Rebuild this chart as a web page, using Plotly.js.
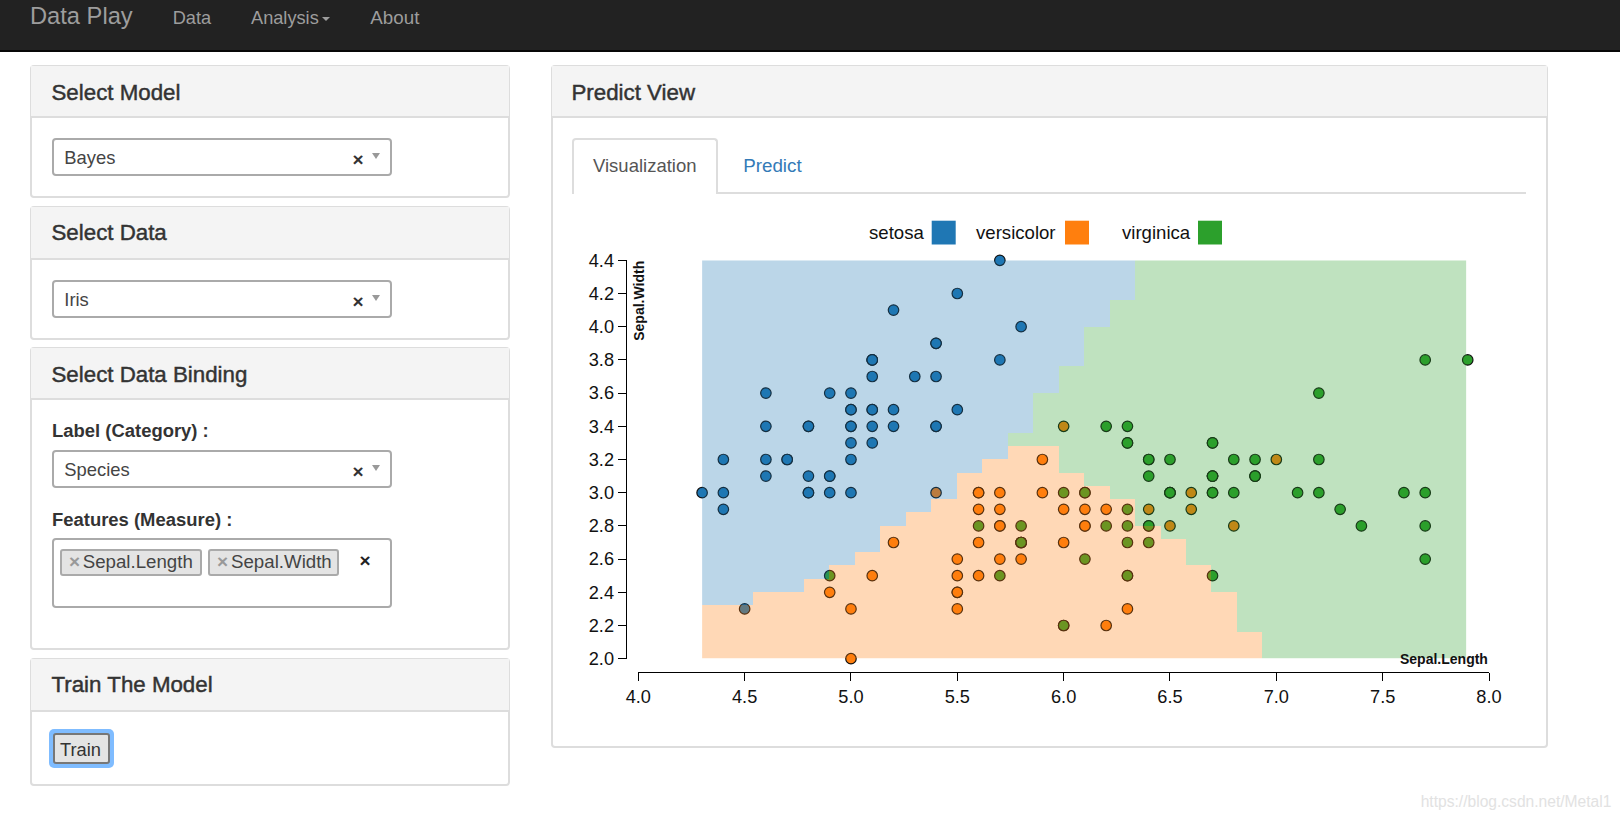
<!DOCTYPE html>
<html>
<head>
<meta charset="utf-8">
<title>Data Play</title>
<script src="https://cdn.plot.ly/plotly-3.0.1.min.js"></script>
<style>
html,body{margin:0;padding:0;width:1620px;height:820px;overflow:hidden;background:#fff;font-family:"Liberation Sans",Arial,sans-serif;color:#333}
.a{position:absolute;box-sizing:border-box;white-space:nowrap}
.nav{left:0;top:0;width:1620px;height:52px;background:#222;border-bottom:2px solid #080808}
.navt{color:#9d9d9d;font-size:18.2px;line-height:24px;height:24px}
.panel{background:#fff;border:2px solid #ddd;border-radius:4px}
.head{left:0;top:0;right:0;background:#f4f4f4;border-bottom:2px solid #ddd}
.h{font-size:22.3px;line-height:30px;height:30px;color:#333;-webkit-text-stroke:.45px #333}
.sel{background:#fff;border:2px solid #aaa;border-radius:4px}
.st{font-size:18.4px;line-height:24px;height:24px;color:#444}
.x{font-size:19px;font-weight:bold;line-height:20px;height:20px;color:#333}
.arrow{width:0;height:0;border-left:4.5px solid transparent;border-right:4.5px solid transparent;border-top:6px solid #999}
.lab{font-size:18.45px;font-weight:bold;line-height:24px;height:24px;color:#333}
.tag{background:#e4e4e4;border:2px solid #aaa;border-radius:3px}
.tx{font-size:19px;font-weight:bold;line-height:20px;height:20px;color:#999}
#chart{position:absolute;left:560px;top:200px;width:980px;height:530px}
</style>
</head>
<body>
<div class="a nav"></div>
<div class="a" style="left:30px;top:-.5px;height:32px;line-height:32px;font-size:23.7px;color:#9d9d9d">Data Play</div>
<div class="a navt" style="left:172.7px;top:5.5px">Data</div>
<div class="a navt" style="left:251px;top:5.5px">Analysis</div>
<div class="a" style="left:322px;top:17px;width:0;height:0;border-left:4px solid transparent;border-right:4px solid transparent;border-top:4px solid #9d9d9d"></div>
<div class="a navt" style="left:370.3px;top:5.5px;font-size:18.8px">About</div>

<div class="a panel" style="left:30px;top:64.5px;width:479.5px;height:133px"></div>
<div class="a head" style="left:31px;top:65.5px;width:477.5px;height:52.5px"></div>
<div class="a h" style="left:51.5px;top:78px">Select Model</div>
<div class="a sel" style="left:52px;top:138px;width:339.5px;height:38px"></div>
<div class="a st" style="left:64.3px;top:146px">Bayes</div>
<div class="a x" style="left:352.5px;top:149.5px">×</div>
<div class="a arrow" style="left:371.5px;top:153px"></div>

<div class="a panel" style="left:30px;top:206px;width:479.5px;height:133.5px"></div>
<div class="a head" style="left:31px;top:207px;width:477.5px;height:53px"></div>
<div class="a h" style="left:51.5px;top:217.5px">Select Data</div>
<div class="a sel" style="left:52px;top:280px;width:339.5px;height:38px"></div>
<div class="a st" style="left:64.3px;top:288px">Iris</div>
<div class="a x" style="left:352.5px;top:291.5px">×</div>
<div class="a arrow" style="left:371.5px;top:295px"></div>

<div class="a panel" style="left:30px;top:346.5px;width:479.5px;height:303px"></div>
<div class="a head" style="left:31px;top:347.5px;width:477.5px;height:52.5px"></div>
<div class="a h" style="left:51.5px;top:360px">Select Data Binding</div>
<div class="a lab" style="left:52px;top:419px">Label (Category) :</div>
<div class="a sel" style="left:52px;top:450px;width:339.5px;height:37.5px"></div>
<div class="a st" style="left:64.3px;top:458px">Species</div>
<div class="a x" style="left:352.5px;top:461.5px">×</div>
<div class="a arrow" style="left:371.5px;top:465px"></div>
<div class="a lab" style="left:52px;top:508px">Features (Measure) :</div>
<div class="a sel" style="left:52px;top:538px;width:339.5px;height:69.5px"></div>
<div class="a tag" style="left:60px;top:548.5px;width:141.5px;height:27px"></div>
<div class="a tx" style="left:69px;top:552px">×</div>
<div class="a st" style="left:82.7px;top:549.5px;font-size:18.7px">Sepal.Length</div>
<div class="a tag" style="left:208.3px;top:548.5px;width:131px;height:27px"></div>
<div class="a tx" style="left:217px;top:552px">×</div>
<div class="a st" style="left:231px;top:549.5px;font-size:18.7px">Sepal.Width</div>
<div class="a x" style="left:359.5px;top:551px;color:#222">×</div>

<div class="a panel" style="left:30px;top:658px;width:479.5px;height:128px"></div>
<div class="a head" style="left:31px;top:659px;width:477.5px;height:52.5px"></div>
<div class="a h" style="left:51.5px;top:669.5px">Train The Model</div>
<div class="a" style="left:48.5px;top:728.5px;width:65px;height:39px;background:#7fbcff;border-radius:5px"></div>
<div class="a" style="left:52.5px;top:732.5px;width:57.5px;height:31.5px;background:#e4e4e4;border:2px solid #777;border-radius:3px"></div>
<div class="a" style="left:60px;top:737.5px;height:24px;line-height:24px;font-size:18.3px;color:#333">Train</div>

<div class="a panel" style="left:550.5px;top:64.5px;width:997px;height:683px"></div>
<div class="a head" style="left:551.5px;top:65.5px;width:995px;height:52.5px"></div>
<div class="a h" style="left:571.5px;top:77.5px">Predict View</div>
<div class="a" style="left:571.5px;top:192px;width:954.5px;height:2px;background:#ddd"></div>
<div class="a" style="left:571.5px;top:138px;width:146px;height:56px;background:#fff;border:2px solid #ddd;border-bottom:none;border-radius:4px 4px 0 0"></div>
<div class="a" style="left:593px;top:153.5px;height:24px;line-height:24px;font-size:18.5px;color:#555">Visualization</div>
<div class="a" style="left:743.2px;top:153.5px;height:24px;line-height:24px;font-size:18.8px;color:#337ab7">Predict</div>
<div class="a" style="left:1420.7px;top:791.5px;height:20px;line-height:20px;font-size:15.6px;color:#e2e2e2">https://blog.csdn.net/Metal1</div>

<div id="chart"></div>
<script>
// Categories and colours
const species = ["setosa", "versicolor", "virginica"];
const speciesColors = ["#1f77b4", "#ff7f0e", "#2ca02c"];

const setosaX = [5.1,4.9,4.7,4.6,5.0,5.4,4.6,5.0,4.4,4.9,5.4,4.8,4.8,4.3,5.8,5.7,5.4,5.1,5.7,5.1,5.4,5.1,4.6,5.1,4.8,5.0,5.0,5.2,5.2,4.7,4.8,5.4,5.2,5.5,4.9,5.0,5.5,4.9,4.4,5.1,5.0,4.5,4.4,5.0,5.1,4.8,5.1,4.6,5.3,5.0];
const setosaY = [3.5,3.0,3.2,3.1,3.6,3.9,3.4,3.4,2.9,3.1,3.7,3.4,3.0,3.0,4.0,4.4,3.9,3.5,3.8,3.8,3.4,3.7,3.6,3.3,3.4,3.0,3.4,3.5,3.4,3.2,3.1,3.4,4.1,4.2,3.1,3.2,3.5,3.6,3.0,3.4,3.5,2.3,3.2,3.5,3.8,3.0,3.8,3.2,3.7,3.3];
const versicolorX = [7.0,6.4,6.9,5.5,6.5,5.7,6.3,4.9,6.6,5.2,5.0,5.9,6.0,6.1,5.6,6.7,5.6,5.8,6.2,5.6,5.9,6.1,6.3,6.1,6.4,6.6,6.8,6.7,6.0,5.7,5.5,5.5,5.8,6.0,5.4,6.0,6.7,6.3,5.6,5.5,5.5,6.1,5.8,5.0,5.6,5.7,5.7,6.2,5.1,5.7];
const versicolorY = [3.2,3.2,3.1,2.3,2.8,2.8,3.3,2.4,2.9,2.7,2.0,3.0,2.2,2.9,2.9,3.1,3.0,2.7,2.2,2.5,3.2,2.8,2.5,2.8,2.9,3.0,2.8,3.0,2.9,2.6,2.4,2.4,2.7,2.7,3.0,3.4,3.1,2.3,3.0,2.5,2.6,3.0,2.6,2.3,2.7,3.0,2.9,2.9,2.5,2.8];
const virginicaX = [6.3,5.8,7.1,6.3,6.5,7.6,4.9,7.3,6.7,7.2,6.5,6.4,6.8,5.7,5.8,6.4,6.5,7.7,7.7,6.0,6.9,5.6,7.7,6.3,6.7,7.2,6.2,6.1,6.4,7.2,7.4,7.9,6.4,6.3,6.1,7.7,6.3,6.4,6.0,6.9,6.7,6.9,5.8,6.8,6.7,6.7,6.3,6.5,6.2];
const virginicaY = [3.3,2.7,3.0,2.9,3.0,3.0,2.5,2.9,2.5,3.6,3.2,2.7,3.0,2.5,2.8,3.2,3.0,3.8,2.6,2.2,3.2,2.8,2.8,2.7,3.3,3.2,2.8,3.0,2.8,3.0,2.8,3.8,2.8,2.8,2.6,3.0,3.4,3.1,3.0,3.1,3.1,3.1,2.7,3.2,3.3,3.0,2.5,3.0,3.4];

// Decision regions: for each of the 30 rows (bottom to top), the column where
// setosa ends and the column where versicolor ends; virginica fills the rest.
const setosaEnd =     [0,0,0,0,2,4,5,6,7,7,8,9,10,10,11,12,12,13,13,13,14,14,15,15,15,16,16,17,17,17];
const versicolorEnd = [22,22,21,21,21,20,20,19,19,18,17,17,16,15,14,14,12,13,13,13,14,14,15,15,15,16,16,17,17,17];
const gridColumns = 30;
const gridX0 = 4.36, gridDX = 0.1197, gridY0 = 2.04, gridDY = 0.08;

// Axis ticks
const xTicks = [4.0,4.5,5.0,5.5,6.0,6.5,7.0,7.5,8.0];
const yTicks = [2.0,2.2,2.4,2.6,2.8,3.0,3.2,3.4,3.6,3.8,4.0,4.2,4.4];

const regionZ = setosaEnd.map((end, r) => {
  const row = [];
  for (let c = 0; c < gridColumns; c++) row.push(c < end ? 0 : (c < versicolorEnd[r] ? 1 : 2));
  return row;
});

function dots(name, xs, ys, color) {
  return {type:"scatter", mode:"markers", name:name, x:xs, y:ys, xaxis:"x", yaxis:"y",
    cliponaxis:false, showlegend:false, hoverinfo:"x+y+name",
    marker:{size:10.5, color:color, line:{color:"#111", width:1.2}}};
}

const traces = [
  dots(species[0], setosaX, setosaY, speciesColors[0]),
  dots(species[1], versicolorX, versicolorY, speciesColors[1]),
  dots(species[2], virginicaX, virginicaY, speciesColors[2]),
  {type:"heatmap", name:"prediction", z:regionZ, x0:gridX0, dx:gridDX, y0:gridY0, dy:gridDY,
    xaxis:"x2", yaxis:"y2", zmin:0, zmax:2, showscale:false, opacity:0.3, hoverinfo:"skip", zsmooth:false,
    colorscale:[[0,speciesColors[0]],[0.3333,speciesColors[0]],[0.3333,speciesColors[1]],[0.6667,speciesColors[1]],[0.6667,speciesColors[2]],[1,speciesColors[2]]]}
];

const W = 980, H = 530;
const px = v => v / W, py = v => 1 - v / H;       // chart-div pixels to paper fractions
const xDomain = [px(78.3), px(929)];
const yDomain = [py(458.7), py(60.3)];
const tickFont = {family:"Liberation Sans, Arial, sans-serif", size:18.2, color:"#111"};

const legendShapes = [
  {x0:371.7, x1:395.7, color:speciesColors[0]},
  {x0:505, x1:529, color:speciesColors[1]},
  {x0:638, x1:662, color:speciesColors[2]}
].map(s => ({type:"rect", xref:"paper", yref:"paper", x0:px(s.x0), x1:px(s.x1), y0:py(44.5), y1:py(20.7),
  fillcolor:s.color, line:{width:0}}));

const legendText = [365.5, 498.3, 632.5].map((right, i) => ({
  text:species[i], xref:"paper", yref:"paper", x:px(right), y:py(32.5), xanchor:"right", yanchor:"middle",
  showarrow:false, font:{family:"Liberation Sans, Arial, sans-serif", size:18.6, color:"#111"}}));

const axisTitles = [
  {text:"<b>Sepal.Length</b>", xref:"paper", yref:"paper", x:px(930), y:py(459), xanchor:"right", yanchor:"middle",
   showarrow:false, font:{family:"Liberation Sans, Arial, sans-serif", size:14, color:"#111"}},
  {text:"<b>Sepal.Width</b>", xref:"paper", yref:"paper", x:px(78.3), y:py(58.5), xanchor:"center", yanchor:"top",
   textangle:-90, showarrow:false, font:{family:"Liberation Sans, Arial, sans-serif", size:14, color:"#111"}}
];

const layout = {
  width:W, height:H, margin:{l:0,r:0,t:0,b:0,pad:0}, paper_bgcolor:"rgba(0,0,0,0)", plot_bgcolor:"rgba(0,0,0,0)",
  showlegend:false, hovermode:"closest",
  xaxis:{domain:xDomain, range:[4,8], anchor:"free", position:py(472.3), tickvals:xTicks, tickformat:".1f",
    ticks:"outside", ticklen:8, tickwidth:1, tickcolor:"#000", showline:true, linecolor:"#000", linewidth:1,
    showgrid:false, zeroline:false, tickfont:tickFont},
  yaxis:{domain:yDomain, range:[2,4.4], anchor:"free", position:px(65.7), tickvals:yTicks, tickformat:".1f",
    ticks:"outside", ticklen:8, tickwidth:1, tickcolor:"#000", showline:true, linecolor:"#000", linewidth:1,
    showgrid:false, zeroline:false, tickfont:tickFont},
  xaxis2:{overlaying:"x", matches:"x", visible:false, anchor:"y2", domain:xDomain},
  yaxis2:{overlaying:"y", matches:"y", visible:false, anchor:"x2", domain:yDomain},
  shapes:legendShapes,
  annotations:legendText.concat(axisTitles)
};

Plotly.newPlot("chart", traces, layout, {displayModeBar:false, responsive:false});
</script>
</body>
</html>
